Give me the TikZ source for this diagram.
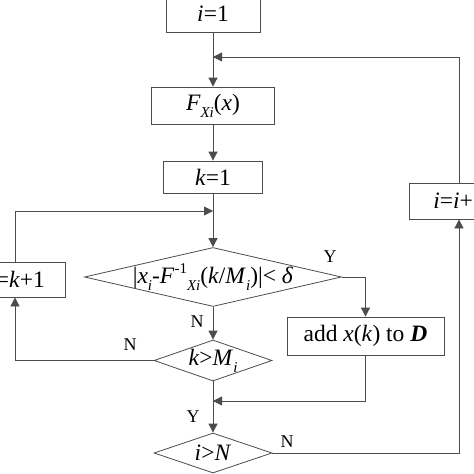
\documentclass[tikz,border=0pt]{standalone}
\usepackage{fontspec}
\setmainfont{Liberation Serif}
\usetikzlibrary{shapes.geometric,arrows.meta}
\newcommand{\mysub}[1]{\raisebox{-0.3em}{\fontsize{15}{15}\selectfont\textit{#1}}}
\newcommand{\mysup}[1]{\raisebox{0.45em}{\fontsize{15}{15}\selectfont #1}}
\begin{document}
\begin{tikzpicture}[x=1pt,y=-1pt,
  every node/.style={font=\fontsize{23.5}{27}\selectfont},
  proc/.style={draw=black!70, line width=0.8pt, rectangle, inner sep=2pt},
  dec/.style={draw=black!70, line width=0.8pt, diamond, inner sep=0pt, aspect=2},
  lbl/.style={font=\fontsize{18}{21}\selectfont},
  arr/.style={draw=black!70, line width=0.8pt, -{Triangle[length=9pt,width=9pt]}},
  ln/.style={draw=black!70, line width=0.8pt}]
\useasboundingbox (0,0) rectangle (474,474);
\fill[white] (0,0) rectangle (474,474);
% nodes
\node[proc, minimum width=94pt, minimum height=36pt] (i1) at (213,14) {\textit{i}=1};
\node[proc, minimum width=123pt, minimum height=37pt] (F) at (213,105.5) {\textit{F}\mysub{Xi}(\textit{x})};
\node[proc, minimum width=99pt, minimum height=32pt] (k1) at (213,177) {\textit{k}=1};
\node[dec, minimum width=257pt, minimum height=59pt] (d1) at (213,277) {\makebox[0pt]{|\textit{x}\mysub{i}-\textit{F}\mysup{-1}\mysub{Xi}(\textit{k}/\textit{M}\mysub{i})|< \textit{δ}}};
\node[proc, minimum width=100pt, minimum height=35pt] (kk) at (15,279.5) {\textit{k}=\textit{k}+1};
\node[dec, minimum width=118pt, minimum height=41pt] (d2) at (213,360.5) {\makebox[0pt]{\textit{k}>\textit{M}\mysub{i}}};
\node[proc, minimum width=157pt, minimum height=38pt] (add) at (365.5,336) {add \textit{x}(\textit{k}) to \textbf{\textit{D}}};
\node[dec, minimum width=118pt, minimum height=40pt] (d3) at (213,453) {\makebox[0pt]{\textit{i}>\textit{N}}};
\node[proc, minimum width=100pt, minimum height=36pt] (ii) at (459,201) {\textit{i}=\textit{i}+1};
% junctions
\coordinate (j1) at (213,57);
\coordinate (j2) at (213,211);
\coordinate (j3) at (213,401);
% connectors
\draw[arr] (i1.south) -- (F.north);
\draw[arr] (ii.north) |- (j1);
\draw[arr] (F.south) -- (k1.north);
\draw[arr] (k1.south) -- (d1.north);
\draw[arr] (kk.north) |- (j2);
\draw[arr] (d1.east) -| (add.north);
\draw[arr] (d1.south) -- (d2.north);
\draw[arr] (d2.west) -| (kk.south);
\draw[arr] (d2.south) -- (d3.north);
\draw[arr] (add.south) |- (j3);
\draw[arr] (d3.east) -| (ii.south);
% labels
\node[lbl] (ly1) at (330,257) {Y};
\node[lbl] (ln1) at (197,322) {N};
\node[lbl] (ln2) at (130,345) {N};
\node[lbl] (ly2) at (193,417) {Y};
\node[lbl] (ln3) at (287,442) {N};
\end{tikzpicture}
\end{document}
